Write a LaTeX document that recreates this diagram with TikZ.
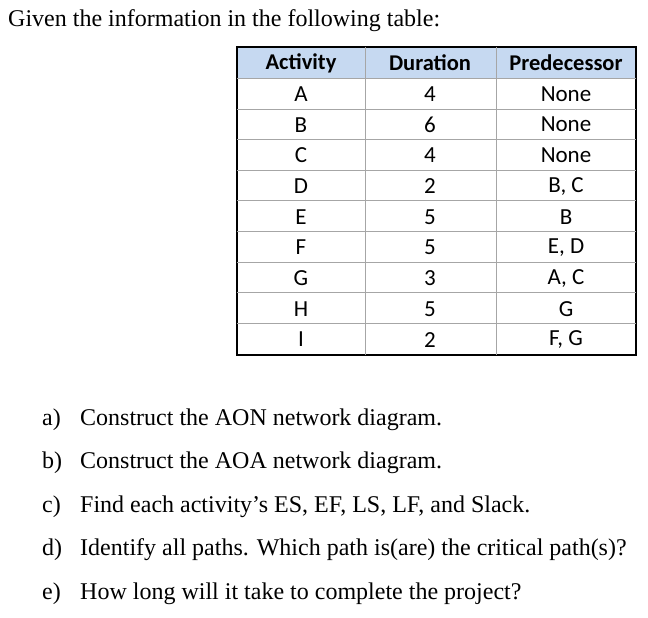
\documentclass[tikz,border=0pt]{standalone}
\usepackage{fontspec}
\setmainfont{Liberation Serif}
\newfontfamily\tabfont{Carlito}
\usetikzlibrary{positioning}
\definecolor{headblue}{RGB}{198,217,241}
\tikzset{
  cell/.style={font=\tabfont\fontsize{23}{25}\selectfont, anchor=center},
  head/.style={cell, font=\tabfont\bfseries\fontsize{22.5}{25}\selectfont},
  txt/.style={font=\fontsize{24}{27}\selectfont, anchor=base west, inner sep=0pt}
}
\begin{document}
\begin{tikzpicture}[x=1pt,y=-1pt]
	\useasboundingbox (0,0) rectangle (648,618);

	\node[txt] (title) at (8,27) {Given the information in the following table:};

	% table
	\fill[headblue] (237,47) rectangle (636,78);
	\draw[line width=1.6pt] (237,47) rectangle (636,355);
	\foreach \y in {78,109,139,170,200,231,262,292,323}
		\draw[gray!70] (237,\y) -- (636,\y);
	\foreach \x in {365,496}
		\draw[gray!70] (\x,47) -- (\x,355);

	\node[head] (hact) at (301,63) {Activity};
	\node[head] (hdur) at (430,63) {Duration};
	\node[head] (hpre) at (566,63) {Predecessor};

	\foreach \act/\dur/\pre [count=\i] in {A/4/None,B/6/None,C/4/None,D/2/{B, C},E/5/B,F/5/{E, D},G/3/{A, C},H/5/G,I/2/{F, G}}{
		\pgfmathsetmacro{\yy}{94+30.7*(\i-1)}
		\node[cell] (act\i) at (301,\yy) {\act};
		\node[cell] (dur\i) at (430,\yy) {\dur};
		\node[cell] (pre\i) at (566,\yy) {\pre};
	}

	% questions
	\foreach \lab/\q [count=\i] in {a/Construct the AON network diagram.,b/Construct the AOA network diagram.,c/{Find each activity’s ES, EF, LS, LF, and Slack.},d/{Identify all paths. Which path is(are) the critical path(s)?},e/How long will it take to complete the project?}{
		\pgfmathsetmacro{\yy}{425+43.5*(\i-1)}
		\node[txt] (lab\i) at (42,\yy) {\lab)};
		\node[txt] (q\i) at (80,\yy) {\q};
	}
\end{tikzpicture}
\end{document}
